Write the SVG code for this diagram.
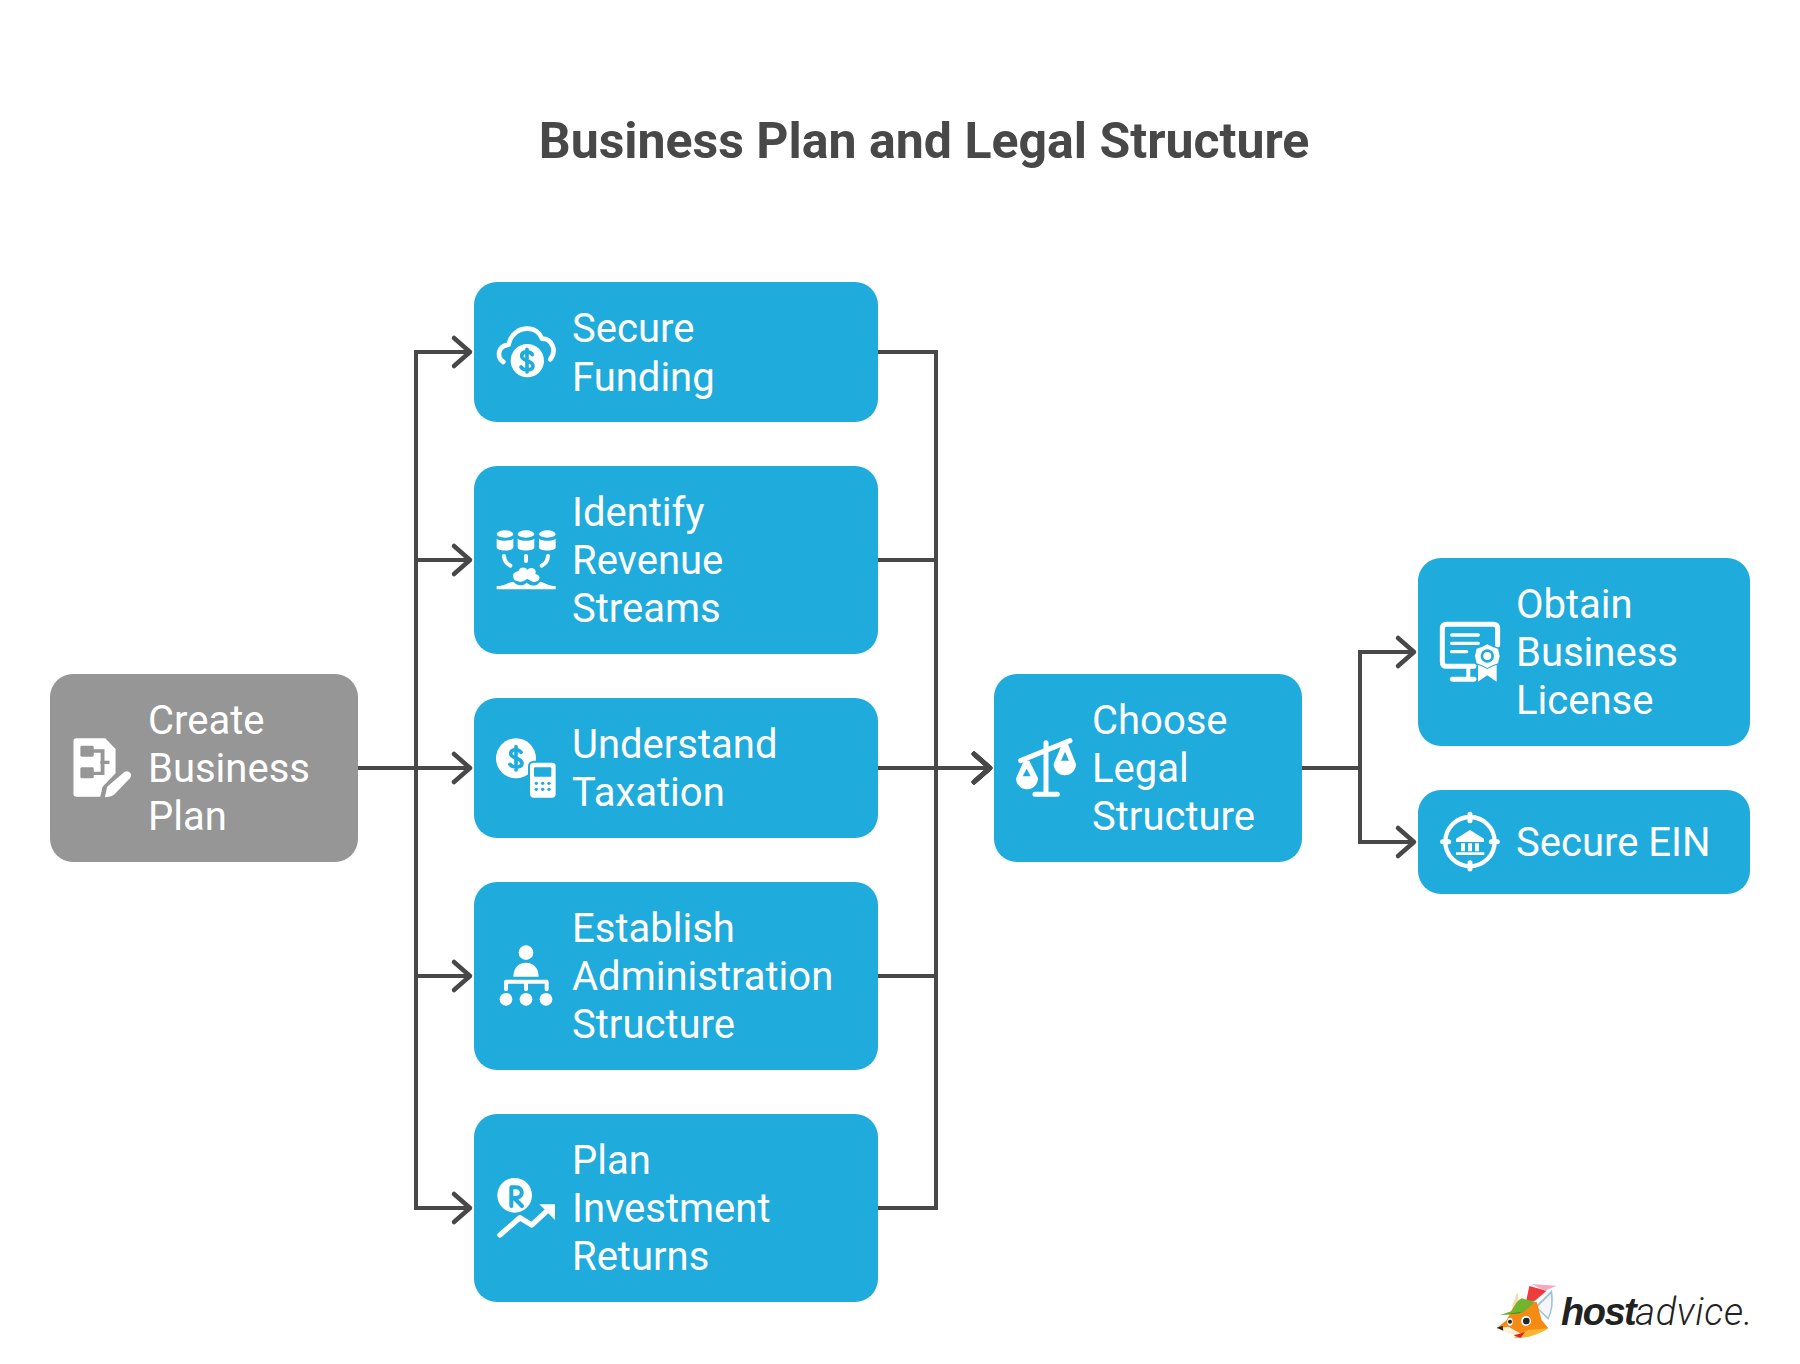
<svg xmlns="http://www.w3.org/2000/svg" width="1800" height="1364" viewBox="0 0 1800 1364">
<style>
.t{font-family:Roboto,"Liberation Sans",sans-serif;font-size:40px;fill:#fff}
.title{font-family:Roboto,"Liberation Sans",sans-serif;font-size:50px;font-weight:700;fill:#484848;text-anchor:middle}
.b{fill:#1fabdb}.g{fill:#969696}
.w{fill:#fff}.ws{fill:none;stroke:#fff;stroke-linecap:round;stroke-linejoin:round}
.bs{fill:none;stroke:#1fabdb;stroke-linecap:round;stroke-linejoin:round}
.c{fill:none;stroke:#484848;stroke-width:4}
</style>
<defs>
<marker id="arr" markerUnits="userSpaceOnUse" markerWidth="24" markerHeight="36" refX="20" refY="18" orient="auto" viewBox="0 0 24 36"><path d="M4 4L20 18L4 32" fill="none" stroke="#484848" stroke-width="4.5" stroke-linecap="round" stroke-linejoin="round"/></marker>
</defs>
<rect width="1800" height="1364" fill="#fff"/>
<text class="title" x="924" y="158">Business Plan and Legal Structure</text>
<g id="connectors">
<path class="c" d="M358 768H416V352H470" marker-end="url(#arr)"/>
<path class="c" d="M358 768H416V560H470" marker-end="url(#arr)"/>
<path class="c" d="M358 768H470" marker-end="url(#arr)"/>
<path class="c" d="M358 768H416V976H470" marker-end="url(#arr)"/>
<path class="c" d="M358 768H416V1208H470" marker-end="url(#arr)"/>
<path class="c" d="M878 352H936V768H990" marker-end="url(#arr)"/>
<path class="c" d="M878 560H936V768H990" marker-end="url(#arr)"/>
<path class="c" d="M878 768H990" marker-end="url(#arr)"/>
<path class="c" d="M878 976H936V768H990" marker-end="url(#arr)"/>
<path class="c" d="M878 1208H936V768H990" marker-end="url(#arr)"/>
<path class="c" d="M1302 768H1360V652H1414" marker-end="url(#arr)"/>
<path class="c" d="M1302 768H1360V842H1414" marker-end="url(#arr)"/>
</g>
<g id="node-create">
<rect class="g" x="50" y="674" width="308" height="188" rx="23"/>
<g transform="translate(0,600) scale(.3827,.3333)">
<path class="w" d="M200 415H275L302 447V520L268 560L262 590H200Q192 590 192 582V423Q192 415 200 415Z"/>
<rect class="g" x="210" y="437" width="35" height="33" rx="4"/><rect class="g" x="210" y="502" width="35" height="33" rx="4"/>
<path fill="none" stroke="#969696" stroke-width="10" d="M240 453H268V482M240 520H268V492M262 487H286"/>
<path class="w" d="M274 592L280 560L325 516Q333 510 340 518Q345 526 340 534L298 584Q290 590 274 592Z"/>
</g>
<text class="t"><tspan x="148" y="734">Create</tspan><tspan x="148" y="782">Business</tspan><tspan x="148" y="830">Plan</tspan></text>
</g>
<g id="node-funding">
<rect class="b" x="474" y="282" width="404" height="140" rx="23"/>
<g transform="translate(470,270) scale(.3333)">
<path class="ws" stroke-width="14" d="M100 276C80 262 82 228 116 224C122 190 150 176 172 176C195 176 210 190 216 206C245 206 262 240 241 268"/>
<circle class="w" cx="172" cy="272" r="50"/>
<path class="bs" stroke-width="11" d="M187 254C180 242 155 243 155 258C155 274 189 270 189 288C189 303 160 303 153 291M171 238V306"/>
</g>
<text class="t"><tspan x="572" y="342">Secure</tspan><tspan x="572" y="391">Funding</tspan></text>
</g>
<g id="node-revenue">
<rect class="b" x="474" y="466" width="404" height="188" rx="23"/>
<g transform="translate(470,270) scale(.3333)">
<ellipse class="w" cx="105" cy="792" rx="25" ry="11"/><path class="w" d="M80 806C90 814 120 814 130 806V832C130 845 80 845 80 832Z"/>
<ellipse class="w" cx="168" cy="792" rx="25" ry="11"/><path class="w" d="M143 806C153 814 183 814 193 806V832C193 845 143 845 143 832Z"/>
<ellipse class="w" cx="232" cy="792" rx="25" ry="11"/><path class="w" d="M207 806C217 814 247 814 257 806V832C257 845 207 845 207 832Z"/>
<path class="ws" stroke-width="12" d="M102 858C103 875 110 882 121 887M168 858V873M234 858C233 875 226 882 215 887"/>
<path class="w" d="M130 920C126 908 140 905 146 902C150 890 166 890 172 900C182 888 202 895 196 912C212 915 212 930 200 934C190 940 180 930 172 926C160 935 150 938 140 932C134 932 130 928 130 920Z"/>
<path class="w" d="M80 958V948C105 948 115 936 130 935C145 950 160 948 170 938C185 950 200 950 210 935C225 938 235 948 257 948V958Z"/>
</g>
<text class="t"><tspan x="572" y="526">Identify</tspan><tspan x="572" y="574">Revenue</tspan><tspan x="572" y="622">Streams</tspan></text>
</g>
<g id="node-taxation">
<rect class="b" x="474" y="698" width="404" height="140" rx="23"/>
<g transform="translate(470,700) scale(.3333)">
<circle class="w" cx="138" cy="175" r="60"/>
<path class="bs" stroke-width="11" d="M153 157C146 146 122 146 122 161C122 176 156 172 156 190C156 204 128 205 120 193M138 140V210"/>
<rect class="w" x="180" y="188" width="77" height="105" rx="11" stroke="#1fabdb" stroke-width="12" paint-order="stroke"/>
<rect class="b" x="192" y="202" width="52" height="28" rx="3"/>
<g class="b"><circle cx="199" cy="250" r="5"/><circle cx="218" cy="250" r="5"/><circle cx="237" cy="250" r="5"/><circle cx="199" cy="268" r="5"/><circle cx="218" cy="268" r="5"/><circle cx="237" cy="268" r="5"/></g>
</g>
<text class="t"><tspan x="572" y="758">Understand</tspan><tspan x="572" y="806">Taxation</tspan></text>
</g>
<g id="node-admin">
<rect class="b" x="474" y="882" width="404" height="188" rx="23"/>
<g transform="translate(470,920) scale(.3333)">
<circle class="w" cx="168" cy="98" r="22"/>
<path class="w" d="M130 170C130 140 150 128 168 128C186 128 206 140 206 170Z"/>
<path class="ws" stroke-width="12" d="M108 208V185H230V208M168 185V208"/>
<circle class="w" cx="108" cy="238" r="19"/><circle class="w" cx="168" cy="238" r="19"/><circle class="w" cx="228" cy="238" r="19"/>
</g>
<text class="t"><tspan x="572" y="942">Establish</tspan><tspan x="572" y="990">Administration</tspan><tspan x="572" y="1038">Structure</tspan></text>
</g>
<g id="node-returns">
<rect class="b" x="474" y="1114" width="404" height="188" rx="23"/>
<g transform="translate(470,920) scale(.3333)">
<circle class="w" cx="134" cy="826" r="52"/>
<path class="bs" stroke-width="12" d="M124 858V802H138C162 802 162 836 132 834L156 858"/>
<path class="ws" stroke-width="16" d="M90 945L150 893L185 915L232 872"/>
<path class="w" d="M208 853H255V900Z"/>
</g>
<text class="t"><tspan x="572" y="1174">Plan</tspan><tspan x="572" y="1222">Investment</tspan><tspan x="572" y="1270">Returns</tspan></text>
</g>
<g id="node-legal">
<rect class="b" x="994" y="674" width="308" height="188" rx="23"/>
<g transform="translate(1000,670) scale(.3333)">
<path class="ws" stroke-width="15" d="M62 272L210 212M138 218V372"/>
<path class="ws" stroke-width="15" d="M105 373H172"/>
<path class="w" fill-rule="evenodd" d="M72 272H88L114 325A33 33 0 0 1 48 325ZM80 296L68 319H92Z"/>
<path class="w" fill-rule="evenodd" d="M187 220H203L228 282A33 33 0 0 1 161 282ZM195 245L183 272H207Z"/>
</g>
<text class="t"><tspan x="1092" y="734">Choose</tspan><tspan x="1092" y="782">Legal</tspan><tspan x="1092" y="830">Structure</tspan></text>
</g>
<g id="node-license">
<rect class="b" x="1418" y="558" width="332" height="188" rx="23"/>
<g transform="translate(1350,550) scale(.3333)">
<path class="ws" stroke-width="15" d="M372 349H290Q277 349 277 335V236Q277 223 290 223H430Q443 223 443 236V285"/>
<path class="ws" stroke-width="10" d="M305 255H385M305 280H385M305 305H350"/>
<path class="ws" stroke-width="12" d="M355 355V385"/>
<path class="ws" stroke-width="15" d="M307 388H372"/>
<path class="w" stroke="#1fabdb" stroke-width="6" paint-order="stroke" d="M384 335H440V395L412 376L384 395Z"/>
<path class="w" stroke="#1fabdb" stroke-width="6" paint-order="stroke" d="M412 283L428 291L444 296L449 318L444 340L428 346L412 354L396 346L380 340L375 318L380 296L396 291Z"/>
<circle cx="412" cy="318" r="20" class="b"/><circle cx="412" cy="318" r="12" class="w"/>
</g>
<text class="t"><tspan x="1516" y="618">Obtain</tspan><tspan x="1516" y="666">Business</tspan><tspan x="1516" y="714">License</tspan></text>
</g>
<g id="node-ein">
<rect class="b" x="1418" y="790" width="332" height="104" rx="23"/>
<g transform="translate(1350,550) scale(.3333)">
<circle class="ws" cx="360" cy="875" r="74" stroke-width="13"/>
<path class="ws" stroke-width="15" d="M360 793V812M360 938V957M278 875H296M424 875H442"/>
<path class="w" d="M360 840L402 866V876H318V866Z"/>
<path class="w" d="M333 880H345V904H333ZM354 880H366V904H354ZM375 880H387V904H375ZM318 907H403V915H318Z"/>
</g>
<text class="t" x="1516" y="856">Secure EIN</text>
</g>
<g id="logo">
<g transform="translate(1480,1270) scale(.3333)">
<path fill="#9cc4df" d="M216 60L165 110L205 150Q225 110 216 60Z"/>
<path fill="#f4f6f8" d="M212 72L172 112L204 142Q218 110 212 72Z"/>
<path fill="#f2dcb6" d="M112 66L95 112L118 100Z"/>
<path fill="#ee3b3b" d="M148 48L200 62L165 92L138 96Z"/>
<path fill="#f6a8c0" d="M155 42L230 47L195 62Z"/>
<path fill="#f58a14" d="M100 110L170 95L185 150L205 175Q165 200 110 195L50 175L80 150Z"/>
<path fill="#fbb531" d="M100 205L145 180L205 175Q160 205 100 205Z"/>
<path fill="#fff2d8" d="M52 175L85 170L130 195Q90 195 52 175Z"/>
<path fill="#6fb52e" d="M60 135L98 122Q105 95 125 85L165 95Q145 115 125 130Z"/>
<path fill="#3c8f22" d="M62 135L125 125L118 130Z"/>
<ellipse cx="90" cy="155" rx="8" ry="12" fill="#fff"/><circle cx="90" cy="155" r="6" fill="#1c2530"/>
<ellipse cx="138" cy="153" rx="15" ry="15" fill="#fff"/><circle cx="139" cy="153" r="10" fill="#1c2530"/>
<path fill="#2a2320" d="M50 173L68 168L70 182Z"/>
<path fill="#d8242f" d="M100 197L135 186L122 203Z"/>
</g>
<text x="1561" y="1325" font-family="Liberation Sans,sans-serif" font-size="38" font-style="italic" fill="#222"><tspan font-weight="700" letter-spacing="-1.5">host</tspan><tspan font-family="Roboto,sans-serif" font-weight="300" letter-spacing="0.7">advice.</tspan></text>
</g>
</svg>
